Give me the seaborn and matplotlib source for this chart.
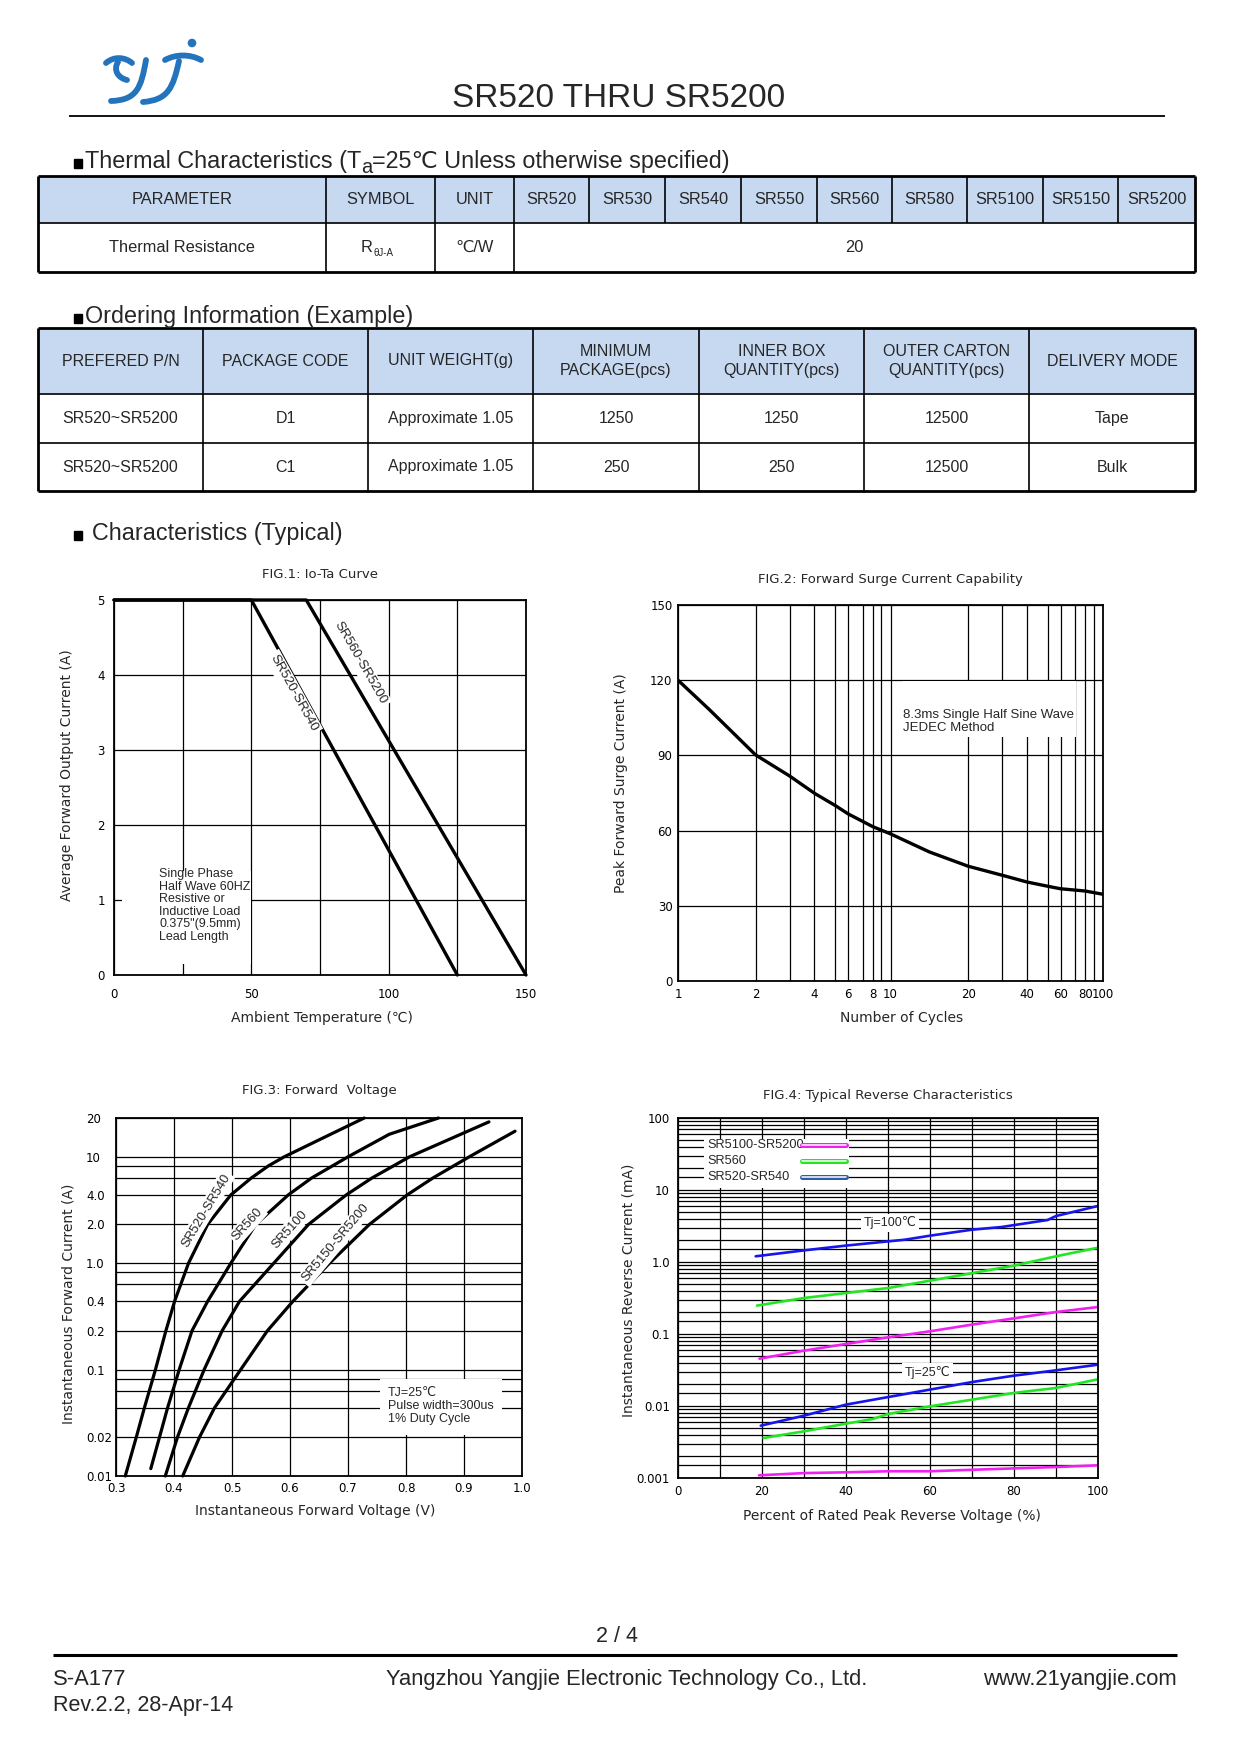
import numpy as np
import seaborn as sns
import matplotlib.pyplot as plt
import matplotlib.patheffects as pe
from matplotlib.patches import Rectangle, PathPatch, Circle
from matplotlib.path import Path
from matplotlib.ticker import LogLocator, MultipleLocator, NullFormatter

sns.set_style("white")
plt.rcParams['font.family'] = ['Liberation Sans', 'DejaVu Sans']
plt.rcParams['mathtext.default'] = 'regular'

W, H = 1242, 1754
AXF = ['DejaVu Sans']

# ---------------- tables ----------------
thermal_head = ["PARAMETER", "SYMBOL", "UNIT", "SR520", "SR530", "SR540", "SR550",
                "SR560", "SR580", "SR5100", "SR5150", "SR5200"]
thermal_param = "Thermal Resistance"
thermal_unit = "℃/W"
thermal_value = "20"

order_head = ["PREFERED P/N", "PACKAGE CODE", "UNIT WEIGHT(g)", "MINIMUM\nPACKAGE(pcs)",
              "INNER BOX\nQUANTITY(pcs)", "OUTER CARTON\nQUANTITY(pcs)", "DELIVERY MODE"]
order_rows = [["SR520~SR5200", "D1", "Approximate 1.05", "1250", "1250", "12500", "Tape"],
              ["SR520~SR5200", "C1", "Approximate 1.05", "250", "250", "12500", "Bulk"]]

# ---------------- FIG.1 Io-Ta ----------------
fig1_ta_low = [0, 50, 125]        # SR520-SR540
fig1_io_low = [5, 5, 0]
fig1_ta_high = [0, 70, 150]       # SR560-SR5200
fig1_io_high = [5, 5, 0]
fig1_xgrid = [0, 25, 50, 75, 100, 125, 150]
fig1_xlabels = ["0", "", "50", "", "100", "", "150"]
fig1_yticks = [0, 1, 2, 3, 4, 5]

# ---------------- FIG.2 surge ----------------
fig2_cycles = [1, 1.4, 2, 3, 4, 5, 6, 8, 10, 15, 20, 30, 40, 50, 60, 80, 100]
fig2_ifsm = [120, 108.4, 90.2, 81.8, 74.9, 70.0, 66.7, 61.6, 58.7, 51.5, 45.8, 42.2, 39.5, 37.8, 36.8, 35.9, 34.6]
fig2_xticks = [1, 2, 4, 6, 8, 10, 20, 40, 60, 80, 100]
fig2_xgrid = [2, 3, 4, 5, 6, 7, 8, 9, 10, 20, 30, 40, 50, 60, 70, 80, 90]
fig2_yticks = [0, 30, 60, 90, 120, 150]

# ---------------- FIG.3 forward voltage ----------------
fig3_v_a = [0.316, 0.335, 0.349, 0.368, 0.386, 0.401, 0.425, 0.458, 0.498, 0.533, 0.563, 0.590, 0.645, 0.728]
fig3_i_a = [0.01, 0.02, 0.04, 0.1, 0.2, 0.4, 1.0, 2.0, 4.0, 6.0, 8.0, 10, 14, 20]
fig3_v_b = [0.360, 0.375, 0.389, 0.409, 0.431, 0.458, 0.498, 0.541, 0.597, 0.637, 0.700, 0.771, 0.856]
fig3_i_b = [0.0119, 0.02, 0.04, 0.1, 0.2, 0.4, 1.0, 2.0, 4.0, 6.0, 10, 15.8, 20]
fig3_v_c = [0.385, 0.406, 0.425, 0.452, 0.483, 0.513, 0.572, 0.632, 0.697, 0.741, 0.806, 0.943]
fig3_i_c = [0.01, 0.02, 0.04, 0.1, 0.2, 0.4, 1.0, 2.0, 4.0, 6.0, 10, 19]
fig3_v_d = [0.415, 0.444, 0.470, 0.515, 0.561, 0.605, 0.668, 0.737, 0.802, 0.846, 0.909, 0.988]
fig3_i_d = [0.01, 0.02, 0.04, 0.1, 0.2, 0.4, 1.0, 2.0, 4.0, 6.0, 10, 16.6]
fig3_xticks = [0.3, 0.4, 0.5, 0.6, 0.7, 0.8, 0.9, 1.0]
fig3_yticks = [0.01, 0.02, 0.1, 0.2, 0.4, 1, 2, 4, 10, 20]
fig3_ylabels = ["0.01", "0.02", "0.1", "0.2", "0.4", "1.0", "2.0", "4.0", "10", "20"]
fig3_ygrid = [0.04, 0.06, 0.08, 0.6, 0.8, 6, 8]

# ---------------- FIG.4 reverse ----------------
fig4_x_b100 = [18.5, 30, 40, 54, 60, 70, 77, 88, 90, 100]
fig4_y_b100 = [1.2, 1.45, 1.69, 2.04, 2.32, 2.81, 3.06, 3.83, 4.35, 6.0]
fig4_x_g100 = [18.8, 30, 40, 50, 60, 70, 80, 90, 100]
fig4_y_g100 = [0.248, 0.316, 0.371, 0.435, 0.55, 0.70, 0.89, 1.2, 1.58]
fig4_x_m100 = [19.4, 30, 40, 50, 60, 70, 80, 90, 100]
fig4_y_m100 = [0.0454, 0.0587, 0.0727, 0.0899, 0.109, 0.135, 0.165, 0.202, 0.237]
fig4_x_b25 = [19.7, 30, 40, 50, 60, 70, 80, 90, 100]
fig4_y_b25 = [0.00533, 0.00734, 0.01045, 0.0133, 0.0169, 0.0215, 0.0264, 0.0313, 0.0375]
fig4_x_g25 = [20.4, 30, 40, 46.4, 50, 60, 70, 80, 90, 100]
fig4_y_g25 = [0.0036, 0.00445, 0.00569, 0.0066, 0.00774, 0.00989, 0.01225, 0.0152, 0.0178, 0.0235]
fig4_x_m25 = [19.3, 30, 40, 50, 60, 70, 80, 90, 100]
fig4_y_m25 = [0.00109, 0.00117, 0.0012, 0.00124, 0.00124, 0.0013, 0.00136, 0.00142, 0.0015]
fig4_xticks = [0, 20, 40, 60, 80, 100]
fig4_yticks = [0.001, 0.01, 0.1, 1, 10, 100]
fig4_ylabels = ["0.001", "0.01", "0.1", "1.0", "10", "100"]
fig4_leg_labels = ["SR5100-SR5200", "SR560", "SR520-SR540"]
fig4_leg_colors = ["#F020F0", "#22E622", "#2A5EA8"]
BLUE, GREEN, PINK = "#1515EE", "#22E622", "#F020F0"

# the log grids of FIG.2 / FIG.3 are drawn with a stretched decade
DIG = np.array([1, 2, 3, 4, 5, 6, 7, 8, 9, 10.0])
FRAC = np.array([0, 0.365, 0.525, 0.642, 0.74, 0.80, 0.87, 0.916, 0.957, 1.0])


def dlog_fwd(v):
    v = np.clip(np.asarray(v, float), 1e-12, None)
    d = np.floor(np.log10(v) + 1e-9)
    return d + np.interp(v / 10 ** d, DIG, FRAC)


def dlog_inv(u):
    u = np.asarray(u, float)
    d = np.floor(u + 1e-9)
    return 10 ** d * np.interp(u - d, FRAC, DIG)


def box(l, t, r, b):
    return [l / W, 1 - b / H, (r - l) / W, (b - t) / H]


fig = plt.figure(figsize=(W / 100, H / 100), dpi=100)
renderer = fig.canvas.get_renderer()
page = fig.add_axes([0, 0, 1, 1])
page.set_xlim(0, W)
page.set_ylim(H, 0)
page.axis('off')


def put(x, y, s, size, ha='left', va='baseline', **kw):
    return page.text(x, y, s, fontsize=size, ha=ha, va=va, **kw)


def hline(x0, x1, y, lw=1.2):
    page.plot([x0, x1], [y, y], color='black', lw=lw, solid_capstyle='butt')


def vline(x, y0, y1, lw=1.2):
    page.plot([x, x], [y0, y1], color='black', lw=lw, solid_capstyle='butt')


# logo
logo_c = '#2474BD'
for pts in [[(106, 63), (114, 56), (125, 57), (132, 63)],
            [(118, 62), (113, 70), (118, 78), (127, 80)],
            [(146, 60), (141, 88), (137, 100), (111, 101)],
            [(165, 60), (176, 54), (190, 54), (201, 60)],
            [(179, 61), (173, 88), (168, 100), (143, 102)]]:
    page.add_patch(PathPatch(Path(pts, [Path.MOVETO, Path.CURVE4, Path.CURVE4, Path.CURVE4]),
                             fc='none', ec=logo_c, lw=4.2, capstyle='round'))
page.add_patch(Circle((192, 43), 3.6, color=logo_c))

put(619, 107, "SR520 THRU SR5200", 24, ha='center')
hline(69, 1165, 116, lw=1.3)

# headings
HS = 16.8
for y, xs in [(168, 85), (323, 85), (540, 92)]:
    page.add_patch(Rectangle((74, y - 9), 8, 9, color='black'))
t = put(85, 168, "Thermal Characteristics (T", HS)
xa = t.get_window_extent(renderer).x1
t = put(xa, 173, "a", 14.5)
xa = t.get_window_extent(renderer).x1
put(xa, 168, "=25℃ Unless otherwise specified)", HS)
put(85, 323, "Ordering Information (Example)", HS)
put(92, 540, "Characteristics (Typical)", HS)

# thermal table
t1x = [38, 326, 435, 514, 589, 665, 741, 817, 892, 967, 1043, 1118, 1195]
t1y = [176, 223, 272]
page.add_patch(Rectangle((t1x[0], t1y[0]), t1x[-1] - t1x[0], t1y[1] - t1y[0], fc='#C6D9F1', ec='none'))
for y, lw in zip(t1y, [2, 1.2, 2]):
    hline(t1x[0], t1x[-1], y, lw)
for i, x in enumerate(t1x):
    vline(x, t1y[0], t1y[2] if i in (0, 1, 2, 3, 12) else t1y[1], 2 if i in (0, 12) else 1.2)
for i, s in enumerate(thermal_head):
    put((t1x[i] + t1x[i + 1]) / 2, 199.5, s, 11.8, ha='center', va='center')
ry = 247.5
put((t1x[0] + t1x[1]) / 2, ry, thermal_param, 11.8, ha='center', va='center')
put(373, ry + 5, "R", 11.8, ha='right')
put(374, ry + 9, "θJ-A", 7, ha='left')
put((t1x[2] + t1x[3]) / 2, ry, thermal_unit, 11.8, ha='center', va='center')
put((t1x[3] + t1x[-1]) / 2, ry, thermal_value, 11.8, ha='center', va='center')

# ordering table
t2x = [38, 203, 368, 533, 699, 864, 1029, 1195]
t2y = [328, 394, 443, 491]
page.add_patch(Rectangle((t2x[0], t2y[0]), t2x[-1] - t2x[0], t2y[1] - t2y[0], fc='#C6D9F1', ec='none'))
for j, y in enumerate(t2y):
    hline(t2x[0], t2x[-1], y, 2 if j in (0, 3) else 1.2)
for i, x in enumerate(t2x):
    vline(x, t2y[0], t2y[-1], 2 if i in (0, 7) else 1.2)
for i, s in enumerate(order_head):
    put((t2x[i] + t2x[i + 1]) / 2, (t2y[0] + t2y[1]) / 2, s, 11.5, ha='center', va='center', linespacing=1.35)
for r, row in enumerate(order_rows):
    for i, s in enumerate(row):
        put((t2x[i] + t2x[i + 1]) / 2, (t2y[r + 1] + t2y[r + 2]) / 2, s, 11.5, ha='center', va='center')

# footer
put(617, 1642, "2 / 4", 15.5, ha='center')
hline(53, 1177, 1655, lw=2.2)
put(53, 1685, "S-A177", 15.8)
put(53, 1711, "Rev.2.2, 28-Apr-14", 15.5)
put(627, 1685, "Yangzhou Yangjie Electronic Technology Co., Ltd.", 15.8, ha='center')
put(1177, 1685, "www.21yangjie.com", 15.8, ha='right')


def style(ax, title, pad, xl, xc, yl, yc):
    for s in ax.spines.values():
        s.set_color('black')
        s.set_linewidth(1.3)
    ax.grid(True, which='both', color='black', lw=0.9)
    ax.set_axisbelow(True)
    ax.tick_params(which='both', length=0, labelsize=8.5, labelfontfamily='DejaVu Sans', colors='black')
    ax.set_title(title, fontsize=9.5, fontfamily=AXF, pad=pad)
    ax.set_xlabel(xl, fontsize=10, fontfamily=AXF)
    ax.set_ylabel(yl, fontsize=10, fontfamily=AXF)
    ax.xaxis.set_label_coords(*xc)
    ax.yaxis.set_label_coords(*yc)


def blank(ax, x0, y0, x1, y1):
    # white backdrop behind a note, in axes fractions
    ax.add_patch(Rectangle((x0, y0), x1 - x0, y1 - y0, transform=ax.transAxes,
                           fc='white', ec='none', zorder=1.5))


note = dict(fc='white', ec='none', pad=2)

# ---- FIG.1 ----
ax1 = fig.add_axes(box(114, 600, 526, 975))
sns.lineplot(x=fig1_ta_low, y=fig1_io_low, ax=ax1, color='black', lw=2.4, estimator=None, clip_on=False)
sns.lineplot(x=fig1_ta_high, y=fig1_io_high, ax=ax1, color='black', lw=2.4, estimator=None, clip_on=False)
ax1.set_xlim(0, 150)
ax1.set_ylim(0, 5)
ax1.set_xticks(fig1_xgrid)
ax1.set_xticklabels(fig1_xlabels)
ax1.set_yticks(fig1_yticks)
style(ax1, "FIG.1: Io-Ta Curve", 16, "Ambient Temperature (℃)", (0.505, -0.096),
      "Average Forward Output Current (A)", (-0.097, 0.533))
ax1.tick_params(axis='x', pad=9)
ax1.tick_params(axis='y', pad=6.5)
ax1.text(89.6, 4.16, "SR560-SR5200", fontsize=9.5, rotation=-60, rotation_mode='anchor',
         ha='center', va='center', bbox=note)
ax1.text(65.3, 3.76, "SR520-SR540", fontsize=9.5, rotation=-61, rotation_mode='anchor',
         ha='center', va='center', bbox=note)
blank(ax1, 0.02, 0.03, 0.333, 0.278)
ax1.text(16.4, 1.42, "Single Phase\nHalf Wave 60HZ\nResistive or\nInductive Load\n0.375\"(9.5mm)\nLead Length",
         fontsize=9, ha='left', va='top', linespacing=1.05, zorder=3)

# ---- FIG.2 ----
ax2 = fig.add_axes(box(678, 605, 1103, 981))
sns.lineplot(x=fig2_cycles, y=fig2_ifsm, ax=ax2, color='black', lw=2.4, estimator=None)
ax2.set_xscale('function', functions=(dlog_fwd, dlog_inv))
ax2.set_xlim(1, 100)
ax2.set_ylim(0, 150)
ax2.set_xticks(fig2_xgrid, minor=True)
ax2.set_xticks(fig2_xticks)
ax2.set_xticklabels([str(v) for v in fig2_xticks])
ax2.xaxis.set_minor_formatter(NullFormatter())
ax2.set_yticks(fig2_yticks)
style(ax2, "FIG.2: Forward Surge Current Capability", 16, "Number of Cycles", (0.525, -0.08),
      "Peak Forward Surge Current (A)", (-0.118, 0.527))
ax2.tick_params(axis='x', pad=5)
ax2.tick_params(axis='y', pad=4)
blank(ax2, 0.528, 0.648, 0.936, 0.797)
ax2.text(0.53, 0.69, "8.3ms Single Half Sine Wave\nJEDEC Method", transform=ax2.transAxes,
         fontsize=9.5, ha='left', va='center', linespacing=1.1, zorder=3)

# ---- FIG.3 ----
ax3 = fig.add_axes(box(116, 1118, 522, 1476))
for xs, ys in [(fig3_v_a, fig3_i_a), (fig3_v_b, fig3_i_b), (fig3_v_c, fig3_i_c), (fig3_v_d, fig3_i_d)]:
    sns.lineplot(x=xs, y=ys, ax=ax3, color='black', lw=2.3, estimator=None, clip_on=False)
ax3.set_yscale('function', functions=(dlog_fwd, dlog_inv))
ax3.set_xlim(0.3, 1.0)
ax3.set_ylim(0.01, 20)
ax3.set_xticks(fig3_xticks)
ax3.set_xticklabels([f"{v:.1f}" for v in fig3_xticks])
ax3.set_yticks(fig3_ygrid, minor=True)
ax3.yaxis.set_minor_formatter(NullFormatter())
ax3.set_yticks(fig3_yticks)
ax3.set_yticklabels(fig3_ylabels)
style(ax3, "FIG.3: Forward  Voltage", 17, "Instantaneous Forward Voltage (V)", (0.49, -0.078),
      "Instantaneous Forward Current (A)", (-0.10, 0.48))
ax3.tick_params(axis='x', pad=4.3)
ax3.tick_params(axis='y', pad=21.5)
for lbl in ax3.get_yticklabels():
    lbl.set_horizontalalignment('left')
for x, y, s, rot in [(0.455, 2.8, "SR520-SR540", 59), (0.527, 2.0, "SR560", 48),
                     (0.599, 1.86, "SR5100", 48), (0.679, 1.52, "SR5150-SR5200", 50)]:
    ax3.text(x, y, s, fontsize=9.3, rotation=rot, rotation_mode='anchor', ha='center', va='center',
             bbox=dict(fc='white', ec='none', pad=1.5))
blank(ax3, 0.65, 0.115, 0.95, 0.27)
ax3.text(0.67, 0.195, "TJ=25℃\nPulse width=300us\n1% Duty Cycle", transform=ax3.transAxes,
         fontsize=9, ha='left', va='center', linespacing=1.1, zorder=3)

# ---- FIG.4 ----
ax4 = fig.add_axes(box(678, 1118, 1098, 1478))
for xs, ys, c in [(fig4_x_b100, fig4_y_b100, BLUE), (fig4_x_g100, fig4_y_g100, GREEN),
                  (fig4_x_m100, fig4_y_m100, PINK), (fig4_x_b25, fig4_y_b25, BLUE),
                  (fig4_x_g25, fig4_y_g25, GREEN), (fig4_x_m25, fig4_y_m25, PINK)]:
    sns.lineplot(x=xs, y=ys, ax=ax4, color=c, lw=1.9, estimator=None)
ax4.set_yscale('log')
ax4.set_xlim(0, 100)
ax4.set_ylim(0.001, 100)
ax4.set_xticks(fig4_xticks)
ax4.xaxis.set_minor_locator(MultipleLocator(10))
ax4.set_yticks(fig4_yticks)
ax4.set_yticklabels(fig4_ylabels)
ax4.yaxis.set_minor_locator(LogLocator(base=10, subs=[1.5, 2, 3, 4, 5, 6, 7, 8, 9], numticks=30))
ax4.yaxis.set_minor_formatter(NullFormatter())
style(ax4, "FIG.4: Typical Reverse Characteristics", 14, "Percent of Rated Peak Reverse Voltage (%)",
      (0.51, -0.086), "Instantaneous Reverse Current (mA)", (-0.102, 0.52))
ax4.tick_params(axis='x', pad=5)
ax4.tick_params(axis='y', pad=5.8)

# key block (text column, then a column of double-line samples)
blank(ax4, 0.062, 0.805, 0.407, 0.943)
for i, (lab, c) in enumerate(zip(fig4_leg_labels, fig4_leg_colors)):
    ky = 0.925 - i * 0.0445
    ax4.text(0.069, ky, lab, transform=ax4.transAxes, fontsize=9.2, ha='left', va='center', zorder=3)
    ax4.plot([0.295, 0.40], [ky, ky], transform=ax4.transAxes, color='white', lw=1.1, zorder=3,
             path_effects=[pe.Stroke(linewidth=3.6, foreground=c), pe.Normal()])
ax4.text(50.4, 3.5, "Tj=100℃", fontsize=9, ha='center', va='center', bbox=note)
ax4.text(59.5, 0.029, "Tj=25℃", fontsize=9, ha='center', va='center', bbox=note)

fig.savefig("out.png", dpi=100, facecolor='white')
